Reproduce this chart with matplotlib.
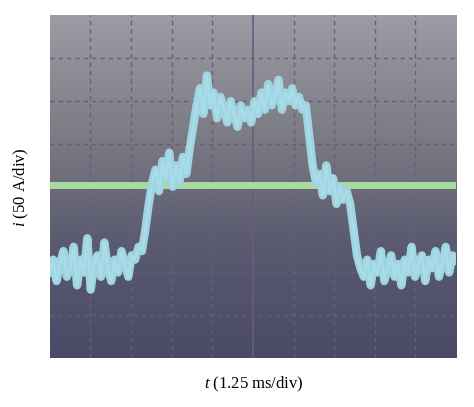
import numpy as np
import matplotlib
matplotlib.use("Agg")
import matplotlib.pyplot as plt
from matplotlib.colors import LinearSegmentedColormap

plt.rcParams['mathtext.fontset'] = 'custom'
plt.rcParams['mathtext.it'] = 'Liberation Serif:italic'
plt.rcParams['mathtext.rm'] = 'Liberation Serif'

current_div = [2.0,2.3,1.8,2.2,2.5,1.9,2.1,2.6,1.7,2.3,2.0,2.8,1.6,2.2,2.4,1.9,2.7,2.1,1.8,2.3,2.0,2.5,2.2,1.9,2.4,2.3,2.6,2.5,
               3.0,3.6,4.1,
               4.4,3.9,4.6,4.2,4.8,4.0,4.5,4.1,4.7,4.3,
               4.9,5.4,5.9,
               6.3,5.7,6.6,5.9,6.2,5.6,6.1,5.8,5.5,6.0,5.7,5.4,5.9,5.6,5.8,5.5,6.0,5.7,6.2,5.8,6.4,5.9,6.1,6.5,5.8,6.2,6.0,6.3,5.9,6.1,5.8,5.9,
               5.2,4.5,4.1,
               4.3,3.8,4.5,3.9,4.2,3.6,4.0,3.7,3.9,3.6,
               3.0,2.4,2.1,
               1.9,2.3,1.7,2.2,2.0,2.5,1.8,2.1,2.4,1.9,2.2,1.7,2.3,2.0,2.6,1.9,2.2,2.4,1.8,2.3,2.1,2.5,1.9,2.2,2.6,2.0,2.4,2.3]
ref_level = 4.05
t = np.linspace(0, 10, len(current_div))

fig = plt.figure(figsize=(4.74, 4.07), dpi=100)
ax = fig.add_axes([0.105, 0.12, 0.857, 0.842])
cmap = LinearSegmentedColormap.from_list('bg', ['#4a4a68', '#5a5a70', '#7d7d86', '#9c9ca4'])
grad = np.linspace(0, 1, 256).reshape(-1, 1)
ax.imshow(grad, extent=[0, 10, 0, 8], origin='lower', aspect='auto', cmap=cmap, zorder=0)
for x in range(1, 10):
    if x == 5:
        ax.axvline(x, color='#6a5a80', lw=1.2, zorder=1)
    else:
        ax.axvline(x, color='#6a5a80', lw=1, ls=(0, (3, 3)), zorder=1)
for y in range(1, 8):
    ax.axhline(y, color='#6a5a80', lw=1, ls=(0, (3, 3)), zorder=1)
ax.axhline(ref_level, color='#a8dca0', lw=5, zorder=2)
ax.plot(t, current_div, color='#9fd4e0', lw=6, zorder=3)
ax.plot(t, current_div, color='#a8dce8', lw=2, zorder=3)
ax.set_xlim(0, 10)
ax.set_ylim(0, 8)
ax.set_xticks([]); ax.set_yticks([])
for s in ax.spines.values():
    s.set_visible(False)
fig.text(0.535, 0.055, r"$t$ (1.25 ms/div)", ha='center', va='center', fontsize=12, family='Liberation Serif')
fig.text(0.045, 0.54, r"$i$ (50 A/div)", ha='center', va='center', fontsize=12, rotation=90, family='Liberation Serif')
fig.savefig('out.png', dpi=100)
